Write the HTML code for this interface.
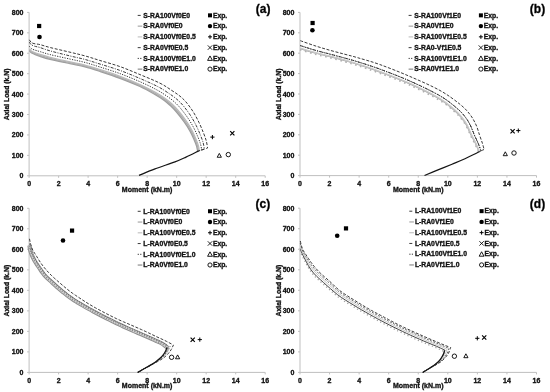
<!DOCTYPE html>
<html><head><meta charset="utf-8"><title>Interaction diagrams</title>
<style>html,body{margin:0;padding:0;background:#fff;width:550px;height:392px;overflow:hidden}svg{display:block;filter:blur(0.35px)}</style>
</head><body>
<svg width="550" height="392" viewBox="0 0 550 392" font-family="'Liberation Sans', Arial, sans-serif">
<style>text{stroke:#111;stroke-width:0.32px}</style>
<rect width="550" height="392" fill="#fff"/>
<path d="M29.1,12.4 V175.8 H265.2" fill="none" stroke="#bfbfbf" stroke-width="1"/>
<text x="23.5" y="178.3" font-size="7" text-anchor="end" font-weight="bold" fill="#111">0</text>
<text x="23.5" y="157.88" font-size="7" text-anchor="end" font-weight="bold" fill="#111">100</text>
<text x="23.5" y="137.45" font-size="7" text-anchor="end" font-weight="bold" fill="#111">200</text>
<text x="23.5" y="117.03" font-size="7" text-anchor="end" font-weight="bold" fill="#111">300</text>
<text x="23.5" y="96.6" font-size="7" text-anchor="end" font-weight="bold" fill="#111">400</text>
<text x="23.5" y="76.18" font-size="7" text-anchor="end" font-weight="bold" fill="#111">500</text>
<text x="23.5" y="55.75" font-size="7" text-anchor="end" font-weight="bold" fill="#111">600</text>
<text x="23.5" y="35.33" font-size="7" text-anchor="end" font-weight="bold" fill="#111">700</text>
<text x="23.5" y="14.9" font-size="7" text-anchor="end" font-weight="bold" fill="#111">800</text>
<text x="29.1" y="186.2" font-size="7" text-anchor="middle" font-weight="bold" fill="#111">0</text>
<text x="58.61" y="186.2" font-size="7" text-anchor="middle" font-weight="bold" fill="#111">2</text>
<text x="88.12" y="186.2" font-size="7" text-anchor="middle" font-weight="bold" fill="#111">4</text>
<text x="117.64" y="186.2" font-size="7" text-anchor="middle" font-weight="bold" fill="#111">6</text>
<text x="147.15" y="186.2" font-size="7" text-anchor="middle" font-weight="bold" fill="#111">8</text>
<text x="176.66" y="186.2" font-size="7" text-anchor="middle" font-weight="bold" fill="#111">10</text>
<text x="206.17" y="186.2" font-size="7" text-anchor="middle" font-weight="bold" fill="#111">12</text>
<text x="235.69" y="186.2" font-size="7" text-anchor="middle" font-weight="bold" fill="#111">14</text>
<text x="265.2" y="186.2" font-size="7" text-anchor="middle" font-weight="bold" fill="#111">16</text>
<path d="M27.1,175.8 h2 M27.1,155.38 h2 M27.1,134.95 h2 M27.1,114.53 h2 M27.1,94.1 h2 M27.1,73.68 h2 M27.1,53.25 h2 M27.1,32.83 h2 M27.1,12.4 h2 M29.1,175.8 v2 M58.61,175.8 v2 M88.12,175.8 v2 M117.64,175.8 v2 M147.15,175.8 v2 M176.66,175.8 v2 M206.17,175.8 v2 M235.69,175.8 v2 M265.2,175.8 v2" stroke="#bfbfbf" stroke-width="1" fill="none"/>
<text x="147.15" y="191.8" font-size="7" text-anchor="middle" font-weight="bold" fill="#111">Moment (kN.m)</text>
<text x="0" y="0" font-size="6.85" text-anchor="middle" font-weight="bold" fill="#111" transform="translate(9.1,94.4) rotate(-90)">Axial Load (k.N)</text>
<path d="M137.7,15.4 h4.6" stroke="#3a3a3a" stroke-width="1" stroke-dasharray="3 1.6" fill="none"/>
<text x="143.3" y="17.6" font-size="6.8" text-anchor="start" font-weight="bold" fill="#111">S-RA100Vf0E0</text>
<text x="212.9" y="17.6" font-size="6.8" text-anchor="start" font-weight="bold" fill="#111">Exp.</text>
<path d="M137.7,26.15 h4.6" stroke="#a8a8a8" stroke-width="1.2" fill="none"/>
<text x="143.3" y="28.35" font-size="6.8" text-anchor="start" font-weight="bold" fill="#111">S-RA0Vf0E0</text>
<text x="212.9" y="28.35" font-size="6.8" text-anchor="start" font-weight="bold" fill="#111">Exp.</text>
<path d="M137.7,36.9 h4.6" stroke="#c4c4c4" stroke-width="1.2" fill="none"/>
<text x="143.3" y="39.1" font-size="6.8" text-anchor="start" font-weight="bold" fill="#111">S-RA100Vf0E0.5</text>
<text x="212.9" y="39.1" font-size="6.8" text-anchor="start" font-weight="bold" fill="#111">Exp.</text>
<path d="M137.7,47.65 h4.6" stroke="#3a3a3a" stroke-width="1" stroke-dasharray="3 1.6" fill="none"/>
<text x="143.3" y="49.85" font-size="6.8" text-anchor="start" font-weight="bold" fill="#111">S-RA0Vf0E0.5</text>
<text x="212.9" y="49.85" font-size="6.8" text-anchor="start" font-weight="bold" fill="#111">Exp.</text>
<path d="M137.7,58.4 h4.6" stroke="#333" stroke-width="1" stroke-dasharray="1.2 1.3" fill="none"/>
<text x="143.3" y="60.6" font-size="6.8" text-anchor="start" font-weight="bold" fill="#111">S-RA100Vf0E1.0</text>
<text x="212.9" y="60.6" font-size="6.8" text-anchor="start" font-weight="bold" fill="#111">Exp.</text>
<path d="M137.7,69.15 h4.6" stroke="#8e8e8e" stroke-width="1.2" fill="none"/>
<text x="143.3" y="71.35" font-size="6.8" text-anchor="start" font-weight="bold" fill="#111">S-RA0Vf0E1.0</text>
<text x="212.9" y="71.35" font-size="6.8" text-anchor="start" font-weight="bold" fill="#111">Exp.</text>
<rect x="208" y="13.35" width="4" height="4" fill="#000"/>
<circle cx="210" cy="26.1" r="2.2" fill="#000"/>
<path d="M208,36.85 h4 M210,34.85 v4" stroke="#000" stroke-width="1" fill="none"/>
<path d="M207.8,45.4 l4.4,4.4 M207.8,49.8 l4.4,-4.4" stroke="#000" stroke-width="0.86" fill="none"/>
<path d="M210,55.95 L212.4,60.39 L207.6,60.39 Z" stroke="#000" stroke-width="0.9" fill="none"/>
<circle cx="210" cy="69.1" r="2.1" fill="none" stroke="#000" stroke-width="0.9"/>
<text x="270.4" y="13.2" font-size="12" text-anchor="end" font-weight="bold" fill="#000">(a)</text>
<path d="M300,12.4 V175.6 H536.5" fill="none" stroke="#bfbfbf" stroke-width="1"/>
<text x="294.4" y="178.1" font-size="7" text-anchor="end" font-weight="bold" fill="#111">0</text>
<text x="294.4" y="157.7" font-size="7" text-anchor="end" font-weight="bold" fill="#111">100</text>
<text x="294.4" y="137.3" font-size="7" text-anchor="end" font-weight="bold" fill="#111">200</text>
<text x="294.4" y="116.9" font-size="7" text-anchor="end" font-weight="bold" fill="#111">300</text>
<text x="294.4" y="96.5" font-size="7" text-anchor="end" font-weight="bold" fill="#111">400</text>
<text x="294.4" y="76.1" font-size="7" text-anchor="end" font-weight="bold" fill="#111">500</text>
<text x="294.4" y="55.7" font-size="7" text-anchor="end" font-weight="bold" fill="#111">600</text>
<text x="294.4" y="35.3" font-size="7" text-anchor="end" font-weight="bold" fill="#111">700</text>
<text x="294.4" y="14.9" font-size="7" text-anchor="end" font-weight="bold" fill="#111">800</text>
<text x="300" y="186" font-size="7" text-anchor="middle" font-weight="bold" fill="#111">0</text>
<text x="329.56" y="186" font-size="7" text-anchor="middle" font-weight="bold" fill="#111">2</text>
<text x="359.12" y="186" font-size="7" text-anchor="middle" font-weight="bold" fill="#111">4</text>
<text x="388.69" y="186" font-size="7" text-anchor="middle" font-weight="bold" fill="#111">6</text>
<text x="418.25" y="186" font-size="7" text-anchor="middle" font-weight="bold" fill="#111">8</text>
<text x="447.81" y="186" font-size="7" text-anchor="middle" font-weight="bold" fill="#111">10</text>
<text x="477.38" y="186" font-size="7" text-anchor="middle" font-weight="bold" fill="#111">12</text>
<text x="506.94" y="186" font-size="7" text-anchor="middle" font-weight="bold" fill="#111">14</text>
<text x="536.5" y="186" font-size="7" text-anchor="middle" font-weight="bold" fill="#111">16</text>
<path d="M298,175.6 h2 M298,155.2 h2 M298,134.8 h2 M298,114.4 h2 M298,94 h2 M298,73.6 h2 M298,53.2 h2 M298,32.8 h2 M298,12.4 h2 M300,175.6 v2 M329.56,175.6 v2 M359.12,175.6 v2 M388.69,175.6 v2 M418.25,175.6 v2 M447.81,175.6 v2 M477.38,175.6 v2 M506.94,175.6 v2 M536.5,175.6 v2" stroke="#bfbfbf" stroke-width="1" fill="none"/>
<text x="418.25" y="191.6" font-size="7" text-anchor="middle" font-weight="bold" fill="#111">Moment (kN.m)</text>
<text x="0" y="0" font-size="6.85" text-anchor="middle" font-weight="bold" fill="#111" transform="translate(281,94.3) rotate(-90)">Axial Load (k.N)</text>
<path d="M408.6,15.4 h4.6" stroke="#3a3a3a" stroke-width="1" stroke-dasharray="3 1.6" fill="none"/>
<text x="414.2" y="17.6" font-size="6.8" text-anchor="start" font-weight="bold" fill="#111">S-RA100Vf1E0</text>
<text x="483.8" y="17.6" font-size="6.8" text-anchor="start" font-weight="bold" fill="#111">Exp.</text>
<path d="M408.6,26.15 h4.6" stroke="#a8a8a8" stroke-width="1.2" fill="none"/>
<text x="414.2" y="28.35" font-size="6.8" text-anchor="start" font-weight="bold" fill="#111">S-RA0Vf1E0</text>
<text x="483.8" y="28.35" font-size="6.8" text-anchor="start" font-weight="bold" fill="#111">Exp.</text>
<path d="M408.6,36.9 h4.6" stroke="#c4c4c4" stroke-width="1.2" fill="none"/>
<text x="414.2" y="39.1" font-size="6.8" text-anchor="start" font-weight="bold" fill="#111">S-RA100Vf1E0.5</text>
<text x="483.8" y="39.1" font-size="6.8" text-anchor="start" font-weight="bold" fill="#111">Exp.</text>
<path d="M408.6,47.65 h4.6" stroke="#3a3a3a" stroke-width="1" stroke-dasharray="3 1.6" fill="none"/>
<text x="414.2" y="49.85" font-size="6.8" text-anchor="start" font-weight="bold" fill="#111">S-RA0-Vf1E0.5</text>
<text x="483.8" y="49.85" font-size="6.8" text-anchor="start" font-weight="bold" fill="#111">Exp.</text>
<path d="M408.6,58.4 h4.6" stroke="#333" stroke-width="1" stroke-dasharray="1.2 1.3" fill="none"/>
<text x="414.2" y="60.6" font-size="6.8" text-anchor="start" font-weight="bold" fill="#111">S-RA100Vf1E1.0</text>
<text x="483.8" y="60.6" font-size="6.8" text-anchor="start" font-weight="bold" fill="#111">Exp.</text>
<path d="M408.6,69.15 h4.6" stroke="#8e8e8e" stroke-width="1.2" fill="none"/>
<text x="414.2" y="71.35" font-size="6.8" text-anchor="start" font-weight="bold" fill="#111">S-RA0Vf1E1.0</text>
<text x="483.8" y="71.35" font-size="6.8" text-anchor="start" font-weight="bold" fill="#111">Exp.</text>
<rect x="478.9" y="13.35" width="4" height="4" fill="#000"/>
<circle cx="480.9" cy="26.1" r="2.2" fill="#000"/>
<path d="M478.9,36.85 h4 M480.9,34.85 v4" stroke="#000" stroke-width="1" fill="none"/>
<path d="M478.7,45.4 l4.4,4.4 M478.7,49.8 l4.4,-4.4" stroke="#000" stroke-width="0.86" fill="none"/>
<path d="M480.9,55.95 L483.3,60.39 L478.5,60.39 Z" stroke="#000" stroke-width="0.9" fill="none"/>
<circle cx="480.9" cy="69.1" r="2.1" fill="none" stroke="#000" stroke-width="0.9"/>
<text x="545.2" y="13.2" font-size="12" text-anchor="end" font-weight="bold" fill="#000">(b)</text>
<path d="M29.1,208.3 V372.4 H265.2" fill="none" stroke="#bfbfbf" stroke-width="1"/>
<text x="23.5" y="374.9" font-size="7" text-anchor="end" font-weight="bold" fill="#111">0</text>
<text x="23.5" y="354.39" font-size="7" text-anchor="end" font-weight="bold" fill="#111">100</text>
<text x="23.5" y="333.88" font-size="7" text-anchor="end" font-weight="bold" fill="#111">200</text>
<text x="23.5" y="313.36" font-size="7" text-anchor="end" font-weight="bold" fill="#111">300</text>
<text x="23.5" y="292.85" font-size="7" text-anchor="end" font-weight="bold" fill="#111">400</text>
<text x="23.5" y="272.34" font-size="7" text-anchor="end" font-weight="bold" fill="#111">500</text>
<text x="23.5" y="251.82" font-size="7" text-anchor="end" font-weight="bold" fill="#111">600</text>
<text x="23.5" y="231.31" font-size="7" text-anchor="end" font-weight="bold" fill="#111">700</text>
<text x="23.5" y="210.8" font-size="7" text-anchor="end" font-weight="bold" fill="#111">800</text>
<text x="29.1" y="382.8" font-size="7" text-anchor="middle" font-weight="bold" fill="#111">0</text>
<text x="58.61" y="382.8" font-size="7" text-anchor="middle" font-weight="bold" fill="#111">2</text>
<text x="88.12" y="382.8" font-size="7" text-anchor="middle" font-weight="bold" fill="#111">4</text>
<text x="117.64" y="382.8" font-size="7" text-anchor="middle" font-weight="bold" fill="#111">6</text>
<text x="147.15" y="382.8" font-size="7" text-anchor="middle" font-weight="bold" fill="#111">8</text>
<text x="176.66" y="382.8" font-size="7" text-anchor="middle" font-weight="bold" fill="#111">10</text>
<text x="206.17" y="382.8" font-size="7" text-anchor="middle" font-weight="bold" fill="#111">12</text>
<text x="235.69" y="382.8" font-size="7" text-anchor="middle" font-weight="bold" fill="#111">14</text>
<text x="265.2" y="382.8" font-size="7" text-anchor="middle" font-weight="bold" fill="#111">16</text>
<path d="M27.1,372.4 h2 M27.1,351.89 h2 M27.1,331.38 h2 M27.1,310.86 h2 M27.1,290.35 h2 M27.1,269.84 h2 M27.1,249.32 h2 M27.1,228.81 h2 M27.1,208.3 h2 M29.1,372.4 v2 M58.61,372.4 v2 M88.12,372.4 v2 M117.64,372.4 v2 M147.15,372.4 v2 M176.66,372.4 v2 M206.17,372.4 v2 M235.69,372.4 v2 M265.2,372.4 v2" stroke="#bfbfbf" stroke-width="1" fill="none"/>
<text x="147.15" y="388.4" font-size="7" text-anchor="middle" font-weight="bold" fill="#111">Moment (kN.m)</text>
<text x="0" y="0" font-size="6.85" text-anchor="middle" font-weight="bold" fill="#111" transform="translate(9.1,290.65) rotate(-90)">Axial Load (k.N)</text>
<path d="M137.7,211.3 h4.6" stroke="#3a3a3a" stroke-width="1" stroke-dasharray="3 1.6" fill="none"/>
<text x="143.3" y="213.5" font-size="6.8" text-anchor="start" font-weight="bold" fill="#111">L-RA100Vf0E0</text>
<text x="212.9" y="213.5" font-size="6.8" text-anchor="start" font-weight="bold" fill="#111">Exp.</text>
<path d="M137.7,222.05 h4.6" stroke="#a8a8a8" stroke-width="1.2" fill="none"/>
<text x="143.3" y="224.25" font-size="6.8" text-anchor="start" font-weight="bold" fill="#111">L-RA0Vf0E0</text>
<text x="212.9" y="224.25" font-size="6.8" text-anchor="start" font-weight="bold" fill="#111">Exp.</text>
<path d="M137.7,232.8 h4.6" stroke="#c4c4c4" stroke-width="1.2" fill="none"/>
<text x="143.3" y="235" font-size="6.8" text-anchor="start" font-weight="bold" fill="#111">L-RA100Vf0E0.5</text>
<text x="212.9" y="235" font-size="6.8" text-anchor="start" font-weight="bold" fill="#111">Exp.</text>
<path d="M137.7,243.55 h4.6" stroke="#3a3a3a" stroke-width="1" stroke-dasharray="3 1.6" fill="none"/>
<text x="143.3" y="245.75" font-size="6.8" text-anchor="start" font-weight="bold" fill="#111">L-RA0Vf0E0.5</text>
<text x="212.9" y="245.75" font-size="6.8" text-anchor="start" font-weight="bold" fill="#111">Exp.</text>
<path d="M137.7,254.3 h4.6" stroke="#333" stroke-width="1" stroke-dasharray="1.2 1.3" fill="none"/>
<text x="143.3" y="256.5" font-size="6.8" text-anchor="start" font-weight="bold" fill="#111">L-RA100Vf0E1.0</text>
<text x="212.9" y="256.5" font-size="6.8" text-anchor="start" font-weight="bold" fill="#111">Exp.</text>
<path d="M137.7,265.05 h4.6" stroke="#8e8e8e" stroke-width="1.2" fill="none"/>
<text x="143.3" y="267.25" font-size="6.8" text-anchor="start" font-weight="bold" fill="#111">L-RA0Vf0E1.0</text>
<text x="212.9" y="267.25" font-size="6.8" text-anchor="start" font-weight="bold" fill="#111">Exp.</text>
<rect x="208" y="209.25" width="4" height="4" fill="#000"/>
<circle cx="210" cy="222" r="2.2" fill="#000"/>
<path d="M208,232.75 h4 M210,230.75 v4" stroke="#000" stroke-width="1" fill="none"/>
<path d="M207.8,241.3 l4.4,4.4 M207.8,245.7 l4.4,-4.4" stroke="#000" stroke-width="0.86" fill="none"/>
<path d="M210,251.85 L212.4,256.29 L207.6,256.29 Z" stroke="#000" stroke-width="0.9" fill="none"/>
<circle cx="210" cy="265" r="2.1" fill="none" stroke="#000" stroke-width="0.9"/>
<text x="270.2" y="208.2" font-size="12" text-anchor="end" font-weight="bold" fill="#000">(c)</text>
<path d="M300,208.2 V372.4 H536.5" fill="none" stroke="#bfbfbf" stroke-width="1"/>
<text x="294.4" y="374.9" font-size="7" text-anchor="end" font-weight="bold" fill="#111">0</text>
<text x="294.4" y="354.38" font-size="7" text-anchor="end" font-weight="bold" fill="#111">100</text>
<text x="294.4" y="333.85" font-size="7" text-anchor="end" font-weight="bold" fill="#111">200</text>
<text x="294.4" y="313.32" font-size="7" text-anchor="end" font-weight="bold" fill="#111">300</text>
<text x="294.4" y="292.8" font-size="7" text-anchor="end" font-weight="bold" fill="#111">400</text>
<text x="294.4" y="272.27" font-size="7" text-anchor="end" font-weight="bold" fill="#111">500</text>
<text x="294.4" y="251.75" font-size="7" text-anchor="end" font-weight="bold" fill="#111">600</text>
<text x="294.4" y="231.22" font-size="7" text-anchor="end" font-weight="bold" fill="#111">700</text>
<text x="294.4" y="210.7" font-size="7" text-anchor="end" font-weight="bold" fill="#111">800</text>
<text x="300" y="382.8" font-size="7" text-anchor="middle" font-weight="bold" fill="#111">0</text>
<text x="329.56" y="382.8" font-size="7" text-anchor="middle" font-weight="bold" fill="#111">2</text>
<text x="359.12" y="382.8" font-size="7" text-anchor="middle" font-weight="bold" fill="#111">4</text>
<text x="388.69" y="382.8" font-size="7" text-anchor="middle" font-weight="bold" fill="#111">6</text>
<text x="418.25" y="382.8" font-size="7" text-anchor="middle" font-weight="bold" fill="#111">8</text>
<text x="447.81" y="382.8" font-size="7" text-anchor="middle" font-weight="bold" fill="#111">10</text>
<text x="477.38" y="382.8" font-size="7" text-anchor="middle" font-weight="bold" fill="#111">12</text>
<text x="506.94" y="382.8" font-size="7" text-anchor="middle" font-weight="bold" fill="#111">14</text>
<text x="536.5" y="382.8" font-size="7" text-anchor="middle" font-weight="bold" fill="#111">16</text>
<path d="M298,372.4 h2 M298,351.88 h2 M298,331.35 h2 M298,310.82 h2 M298,290.3 h2 M298,269.77 h2 M298,249.25 h2 M298,228.72 h2 M298,208.2 h2 M300,372.4 v2 M329.56,372.4 v2 M359.12,372.4 v2 M388.69,372.4 v2 M418.25,372.4 v2 M447.81,372.4 v2 M477.38,372.4 v2 M506.94,372.4 v2 M536.5,372.4 v2" stroke="#bfbfbf" stroke-width="1" fill="none"/>
<text x="418.25" y="388.4" font-size="7" text-anchor="middle" font-weight="bold" fill="#111">Moment (kN.m)</text>
<text x="0" y="0" font-size="6.85" text-anchor="middle" font-weight="bold" fill="#111" transform="translate(281,290.6) rotate(-90)">Axial Load (k.N)</text>
<path d="M409.3,211.2 h4.6" stroke="#3a3a3a" stroke-width="1" stroke-dasharray="3 1.6" fill="none"/>
<text x="414.9" y="213.4" font-size="6.8" text-anchor="start" font-weight="bold" fill="#111">L-RA100Vf1E0</text>
<text x="484.5" y="213.4" font-size="6.8" text-anchor="start" font-weight="bold" fill="#111">Exp.</text>
<path d="M409.3,221.95 h4.6" stroke="#a8a8a8" stroke-width="1.2" fill="none"/>
<text x="414.9" y="224.15" font-size="6.8" text-anchor="start" font-weight="bold" fill="#111">L-RA0Vf1E0</text>
<text x="484.5" y="224.15" font-size="6.8" text-anchor="start" font-weight="bold" fill="#111">Exp.</text>
<path d="M409.3,232.7 h4.6" stroke="#c4c4c4" stroke-width="1.2" fill="none"/>
<text x="414.9" y="234.9" font-size="6.8" text-anchor="start" font-weight="bold" fill="#111">L-RA100Vf1E0.5</text>
<text x="484.5" y="234.9" font-size="6.8" text-anchor="start" font-weight="bold" fill="#111">Exp.</text>
<path d="M409.3,243.45 h4.6" stroke="#3a3a3a" stroke-width="1" stroke-dasharray="3 1.6" fill="none"/>
<text x="414.9" y="245.65" font-size="6.8" text-anchor="start" font-weight="bold" fill="#111">L-RA0Vf1E0.5</text>
<text x="484.5" y="245.65" font-size="6.8" text-anchor="start" font-weight="bold" fill="#111">Exp.</text>
<path d="M409.3,254.2 h4.6" stroke="#333" stroke-width="1" stroke-dasharray="1.2 1.3" fill="none"/>
<text x="414.9" y="256.4" font-size="6.8" text-anchor="start" font-weight="bold" fill="#111">L-RA100Vf1E1.0</text>
<text x="484.5" y="256.4" font-size="6.8" text-anchor="start" font-weight="bold" fill="#111">Exp.</text>
<path d="M409.3,264.95 h4.6" stroke="#8e8e8e" stroke-width="1.2" fill="none"/>
<text x="414.9" y="267.15" font-size="6.8" text-anchor="start" font-weight="bold" fill="#111">L-RA0Vf1E1.0</text>
<text x="484.5" y="267.15" font-size="6.8" text-anchor="start" font-weight="bold" fill="#111">Exp.</text>
<rect x="479.6" y="209.15" width="4" height="4" fill="#000"/>
<circle cx="481.6" cy="221.9" r="2.2" fill="#000"/>
<path d="M479.6,232.65 h4 M481.6,230.65 v4" stroke="#000" stroke-width="1" fill="none"/>
<path d="M479.4,241.2 l4.4,4.4 M479.4,245.6 l4.4,-4.4" stroke="#000" stroke-width="0.86" fill="none"/>
<path d="M481.6,251.75 L484,256.19 L479.2,256.19 Z" stroke="#000" stroke-width="0.9" fill="none"/>
<circle cx="481.6" cy="264.9" r="2.1" fill="none" stroke="#000" stroke-width="0.9"/>
<text x="545.2" y="208.2" font-size="12" text-anchor="end" font-weight="bold" fill="#000">(d)</text>
<path d="M29.4,50.58 C29.67,50.89 30.23,51.87 31,52.43 C31.77,52.99 32.5,53.3 34,53.94 C35.5,54.58 37.33,55.37 40,56.26 C42.67,57.15 45,58.04 50,59.27 C55,60.5 64.17,62.39 70,63.64 C75.83,64.89 80,65.5 85,66.79 C90,68.08 94.17,69.48 100,71.39 C105.83,73.3 113.33,75.75 120,78.26 C126.67,80.78 134.25,83.82 140,86.48 C145.75,89.14 150.45,91.88 154.5,94.2 C158.55,96.52 161.7,98.53 164.3,100.39 C166.9,102.25 168.13,103.47 170.1,105.33 C172.07,107.19 173.75,108.8 176.1,111.57 C178.45,114.34 181.85,118.66 184.2,121.95 C186.55,125.24 188.54,128.36 190.2,131.3 C191.86,134.24 193.08,137.16 194.15,139.6 C195.22,142.04 196.03,144.05 196.62,145.95 C197.21,147.84 197.52,150.13 197.7,150.97 C197.78,150.96 198.01,150.93 198.16,150.92 C198.31,150.91 198.53,150.9 198.6,150.9" stroke="#9c9c9c" stroke-width="1.4" fill="none"/>
<path d="M29.4,49.7 C29.67,50.01 30.23,51.03 31,51.59 C31.77,52.16 32.5,52.48 34,53.09 C35.5,53.71 37.33,54.44 40,55.31 C42.67,56.17 45,57.07 50,58.31 C55,59.54 64.17,61.44 70,62.7 C75.83,63.97 80,64.6 85,65.9 C90,67.2 94.17,68.6 100,70.5 C105.83,72.4 113.33,74.8 120,77.31 C126.67,79.81 134.18,82.84 140,85.51 C145.82,88.17 150.79,90.95 154.95,93.3 C159.1,95.65 162.27,97.71 164.93,99.59 C167.59,101.47 168.91,102.72 170.91,104.58 C172.91,106.45 174.57,108.04 176.91,110.79 C179.25,113.54 182.58,117.8 184.92,121.09 C187.25,124.39 189.25,127.59 190.92,130.58 C192.59,133.57 193.83,136.57 194.91,139.06 C196,141.55 196.81,143.6 197.41,145.54 C198.01,147.49 198.33,149.86 198.51,150.73 C198.52,150.74 198.54,150.78 198.56,150.81 C198.57,150.84 198.59,150.89 198.6,150.9" stroke="#ababab" stroke-width="1.4" fill="none"/>
<path d="M29.4,48.82 C29.67,49.14 30.23,50.18 31,50.76 C31.77,51.33 32.5,51.65 34,52.25 C35.5,52.85 37.33,53.5 40,54.35 C42.67,55.2 45,56.11 50,57.34 C55,58.58 64.17,60.49 70,61.77 C75.83,63.05 80,63.7 85,65.01 C90,66.31 94.17,67.72 100,69.61 C105.83,71.5 113.33,73.86 120,76.35 C126.67,78.84 134.1,81.86 140,84.54 C145.9,87.21 151.14,90.02 155.4,92.4 C159.66,94.78 162.84,96.88 165.56,98.79 C168.28,100.69 169.69,101.97 171.72,103.84 C173.75,105.71 175.4,107.27 177.72,110 C180.04,112.74 183.32,116.93 185.64,120.24 C187.96,123.55 189.97,126.81 191.64,129.86 C193.31,132.91 194.59,135.97 195.68,138.52 C196.77,141.07 197.6,143.15 198.2,145.14 C198.81,147.13 199.13,149.59 199.32,150.48 C199.26,150.52 199.07,150.63 198.95,150.7 C198.83,150.77 198.66,150.87 198.6,150.9" stroke="#bababa" stroke-width="1.3" fill="none"/>
<path d="M29.4,39.8 C29.67,40.2 30.23,41.57 31,42.2 C31.77,42.83 32.5,43.2 34,43.6 C35.5,44 37.33,43.95 40,44.6 C42.67,45.25 45,46.23 50,47.5 C55,48.77 64.17,50.8 70,52.2 C75.83,53.6 80,54.52 85,55.9 C90,57.28 94.17,58.72 100,60.5 C105.83,62.28 113.33,64.25 120,66.6 C126.67,68.95 133.33,71.83 140,74.6 C146.67,77.37 154.67,80.53 160,83.2 C165.33,85.87 168.67,88.43 172,90.6 C175.33,92.77 177.67,94.3 180,96.2 C182.33,98.1 183.83,99.45 186,102 C188.17,104.55 190.83,108.08 193,111.5 C195.17,114.92 197.25,118.92 199,122.5 C200.75,126.08 202.28,129.92 203.5,133 C204.72,136.08 205.62,138.5 206.3,141 C206.98,143.5 207.38,146.83 207.6,148 C206.83,148.27 204.5,149.12 203,149.6 C201.5,150.08 199.33,150.68 198.6,150.9" stroke="#3a3a3a" stroke-width="1" stroke-dasharray="3 1.6" fill="none"/>
<path d="M29.4,42.17 C29.67,42.55 30.23,43.85 31,44.5 C31.77,45.14 32.5,45.51 34,46.02 C35.5,46.53 37.33,46.74 40,47.54 C42.67,48.35 45,49.44 50,50.84 C55,52.24 64.17,54.51 70,55.94 C75.83,57.38 80,58.11 85,59.46 C90,60.82 94.17,62.24 100,64.06 C105.83,65.89 113.33,68.01 120,70.42 C126.67,72.82 133.63,75.76 140,78.49 C146.37,81.22 153.29,84.25 158.2,86.8 C163.11,89.35 166.39,91.74 169.48,93.8 C172.57,95.87 174.55,97.3 176.76,99.19 C178.97,101.08 180.53,102.51 182.76,105.13 C184.99,107.75 187.89,111.55 190.12,114.92 C192.35,118.29 194.4,122.01 196.12,125.38 C197.84,128.75 199.27,132.29 200.44,135.16 C201.61,138.03 202.48,140.32 203.13,142.62 C203.79,144.92 204.16,147.91 204.36,148.97 C203.87,149.15 202.38,149.71 201.42,150.03 C200.46,150.35 199.07,150.76 198.6,150.9" stroke="#3a3a3a" stroke-width="1" stroke-dasharray="3 1.3 1 1.3" fill="none"/>
<path d="M29.4,46.27 C29.67,46.61 30.23,47.75 31,48.34 C31.77,48.93 32.5,49.26 34,49.8 C35.5,50.35 37.33,50.8 40,51.6 C42.67,52.39 45,53.32 50,54.56 C55,55.81 64.17,57.75 70,59.06 C75.83,60.38 80,61.11 85,62.43 C90,63.76 94.17,65.17 100,67.03 C105.83,68.89 113.33,71.15 120,73.6 C126.67,76.05 133.88,79.03 140,81.73 C146.12,84.43 152.14,87.34 156.7,89.8 C161.26,92.26 164.49,94.49 167.38,96.47 C170.27,98.45 171.95,99.8 174.06,101.68 C176.17,103.56 177.78,105.06 180.06,107.74 C182.34,110.42 185.44,114.43 187.72,117.77 C190,121.11 192.03,124.58 193.72,127.78 C195.41,130.98 196.76,134.26 197.89,136.96 C199.02,139.66 199.86,141.83 200.49,143.97 C201.12,146.11 201.47,148.81 201.66,149.78 C201.4,149.88 200.61,150.21 200.1,150.39 C199.59,150.58 198.85,150.82 198.6,150.9" stroke="#333" stroke-width="1" stroke-dasharray="1.2 1.3" fill="none"/>
<path d="M198.6,150.9 C196.5,151.93 189.93,155.27 186,157.1 C182.07,158.93 180.17,159.93 175,161.9 C169.83,163.87 161,166.65 155,168.9 C149,171.15 141.67,174.32 139,175.4" stroke="#151515" stroke-width="1.2" fill="none"/>
<rect x="37.05" y="23.9" width="4.2" height="4.2" fill="#000"/>
<circle cx="39.5" cy="37" r="2.31" fill="#000"/>
<path d="M210.3,137.1 h4.2 M212.4,135 v4.2" stroke="#000" stroke-width="1" fill="none"/>
<path d="M230.2,131.2 l4.2,4.2 M230.2,135.4 l4.2,-4.2" stroke="#000" stroke-width="1.15" fill="none"/>
<path d="M219.3,153.4 L221.4,157.28 L217.2,157.28 Z" stroke="#000" stroke-width="0.9" fill="none"/>
<circle cx="228.3" cy="154.6" r="2.21" fill="none" stroke="#000" stroke-width="0.9"/>
<path d="M300,49.8 C302.45,50.52 309.75,52.78 314.7,54.1 C319.65,55.42 324.7,56.43 329.7,57.7 C334.7,58.97 340.03,60.38 344.7,61.7 C349.37,63.02 351.87,63.68 357.7,65.6 C363.53,67.52 371.03,69.95 379.7,73.2 C388.37,76.45 399.7,80.58 409.7,85.1 C419.7,89.62 432.2,95.85 439.7,100.3 C447.2,104.75 451.03,108.63 454.7,111.8 C458.37,114.97 459.75,116.88 461.7,119.3 C463.65,121.72 464.85,123.47 466.4,126.3 C467.95,129.13 469.53,133.3 471,136.3 C472.47,139.3 473.88,141.53 475.2,144.3 C476.52,147.07 478.28,151.47 478.9,152.9" stroke="#b0b0b0" stroke-width="1.6" stroke-dasharray="1.6 3.6" fill="none"/>
<path d="M300.3,48.73 C302.75,49.45 310.05,51.7 315,53.01 C319.95,54.32 325,55.32 330,56.58 C335,57.85 340.33,59.26 345,60.58 C349.67,61.9 352.17,62.57 358,64.49 C363.83,66.42 371.33,68.86 380,72.12 C388.67,75.37 400,79.5 410,84.02 C420,88.54 432.52,94.81 440,99.25 C447.48,103.7 451.22,107.54 454.85,110.69 C458.48,113.83 459.83,115.72 461.76,118.11 C463.69,120.49 464.87,122.18 466.42,125 C467.97,127.82 469.57,132 471.05,135 C472.53,138 473.96,140.22 475.3,143 C476.63,145.78 478.43,150.22 479.05,151.66 C479.07,151.67 479.11,151.71 479.13,151.73 C479.16,151.76 479.19,151.79 479.2,151.8" stroke="#a6a6a6" stroke-width="1.2" fill="none"/>
<path d="M300.3,48.5 C302.75,49.22 310.05,51.48 315,52.8 C319.95,54.12 325,55.13 330,56.4 C335,57.67 340.33,59.08 345,60.4 C349.67,61.72 352.17,62.38 358,64.3 C363.83,66.22 371.33,68.65 380,71.9 C388.67,75.15 400,79.28 410,83.8 C420,88.32 432.5,94.55 440,99 C447.5,103.45 451.33,107.33 455,110.5 C458.67,113.67 460.05,115.58 462,118 C463.95,120.42 465.15,122.17 466.7,125 C468.25,127.83 469.83,132 471.3,135 C472.77,138 474.18,140.23 475.5,143 C476.82,145.77 478.58,150.17 479.2,151.6 C479.2,151.62 479.2,151.67 479.2,151.7 C479.2,151.73 479.2,151.78 479.2,151.8" stroke="#bdbdbd" stroke-width="1.2" fill="none"/>
<path d="M300.3,48.03 C302.75,48.76 310.05,51.05 315,52.38 C319.95,53.71 325,54.76 330,56.03 C335,57.31 340.33,58.72 345,60.03 C349.67,61.35 352.17,62.01 358,63.91 C363.83,65.81 371.33,68.22 380,71.46 C388.67,74.7 400,78.86 410,83.36 C420,87.87 432.45,94.03 440,98.49 C447.55,102.95 451.55,106.91 455.3,110.13 C459.05,113.34 460.49,115.31 462.48,117.79 C464.47,120.27 465.71,122.13 467.26,125 C468.82,127.87 470.35,132 471.79,135 C473.23,138 474.62,140.25 475.91,143 C477.19,145.75 478.9,150.06 479.49,151.47 C479.47,151.5 479.39,151.58 479.34,151.63 C479.29,151.69 479.22,151.77 479.2,151.8" stroke="#cacaca" stroke-width="1.1" fill="none"/>
<path d="M300.3,40.7 C302.75,41.55 310.05,44.2 315,45.8 C319.95,47.4 325,48.88 330,50.3 C335,51.72 340.33,53.05 345,54.3 C349.67,55.55 352.17,56.08 358,57.8 C363.83,59.52 371.33,61.48 380,64.6 C388.67,67.72 400,72.18 410,76.5 C420,80.82 431.67,85.87 440,90.5 C448.33,95.13 455,100.3 460,104.3 C465,108.3 467.32,111.05 470,114.5 C472.68,117.95 474.52,121.58 476.1,125 C477.68,128.42 478.47,132 479.5,135 C480.53,138 481.53,140.58 482.3,143 C483.07,145.42 483.8,148.42 484.1,149.5 C483.67,149.68 482.32,150.22 481.5,150.6 C480.68,150.98 479.58,151.6 479.2,151.8" stroke="#3a3a3a" stroke-width="1" stroke-dasharray="3 1.6" fill="none"/>
<path d="M300.3,45.54 C302.75,46.3 310.05,48.72 315,50.14 C319.95,51.56 325,52.76 330,54.08 C335,55.41 340.33,56.79 345,58.08 C349.67,59.37 352.17,59.99 358,61.83 C363.83,63.67 371.33,65.93 380,69.13 C388.67,72.33 400,76.59 410,81.03 C420,85.47 432.18,91.25 440,95.77 C447.82,100.29 452.73,104.66 456.9,108.14 C461.07,111.63 462.81,113.86 465.04,116.67 C467.27,119.48 468.71,121.94 470.27,125 C471.83,128.06 473.11,132 474.42,135 C475.72,138 476.98,140.37 478.08,143 C479.19,145.63 480.57,149.5 481.06,150.8 C480.9,150.88 480.38,151.12 480.07,151.28 C479.76,151.45 479.35,151.71 479.2,151.8" stroke="#3a3a3a" stroke-width="1" stroke-dasharray="3 1.3 1 1.3" fill="none"/>
<path d="M300.3,45.69 C302.75,46.46 310.05,48.86 315,50.28 C319.95,51.7 325,52.88 330,54.2 C335,55.52 340.33,56.91 345,58.2 C349.67,59.5 352.17,60.12 358,61.96 C363.83,63.8 371.33,66.07 380,69.27 C388.67,72.47 400,76.73 410,81.17 C420,85.62 432.2,91.42 440,95.94 C447.8,100.46 452.65,104.8 456.8,108.27 C460.95,111.73 462.67,113.95 464.88,116.74 C467.09,119.53 468.52,121.96 470.08,125 C471.65,128.04 472.94,132 474.25,135 C475.56,138 476.83,140.36 477.95,143 C479.07,145.64 480.46,149.54 480.96,150.84 C480.81,150.92 480.32,151.14 480.03,151.3 C479.73,151.46 479.34,151.72 479.2,151.8" stroke="#333" stroke-width="1" stroke-dasharray="1.2 1.3" fill="none"/>
<path d="M479.2,151.8 C476.83,152.95 469.53,156.63 465,158.7 C460.47,160.77 456.5,162.33 452,164.2 C447.5,166.07 442.58,168.02 438,169.9 C433.42,171.78 426.75,174.57 424.5,175.5" stroke="#151515" stroke-width="1.2" fill="none"/>
<rect x="310.5" y="20.9" width="4.2" height="4.2" fill="#000"/>
<circle cx="312.4" cy="30.3" r="2.31" fill="#000"/>
<path d="M516.2,130.6 h4.2 M518.3,128.5 v4.2" stroke="#000" stroke-width="1" fill="none"/>
<path d="M510.5,129.2 l4.2,4.2 M510.5,133.4 l4.2,-4.2" stroke="#000" stroke-width="1.15" fill="none"/>
<path d="M505.3,151.8 L507.4,155.69 L503.2,155.69 Z" stroke="#000" stroke-width="0.9" fill="none"/>
<circle cx="514" cy="153" r="2.21" fill="none" stroke="#000" stroke-width="0.9"/>
<path d="M29.5,245.5 C29.59,246.12 29.79,248 30.04,249.23 C30.3,250.45 30.65,251.66 31.05,252.85 C31.45,254.04 31.94,255.2 32.44,256.35 C32.95,257.5 33.49,258.63 34.08,259.74 C34.67,260.84 35.32,261.92 35.98,262.99 C36.64,264.06 37.34,265.09 38.05,266.13 C38.75,267.17 39.48,268.19 40.19,269.23 C40.9,270.26 41.57,271.33 42.3,272.34 C43.04,273.36 43.76,274.39 44.58,275.34 C45.4,276.29 46.32,277.15 47.22,278.02 C48.12,278.9 49.06,279.73 49.98,280.58 C50.9,281.44 51.83,282.29 52.75,283.13 C53.68,283.98 54.61,284.82 55.55,285.65 C56.49,286.49 57.44,287.31 58.39,288.12 C59.35,288.94 60.31,289.75 61.27,290.55 C62.23,291.36 63.2,292.16 64.17,292.95 C65.14,293.75 66.12,294.54 67.11,295.31 C68.1,296.08 69.09,296.85 70.11,297.58 C71.13,298.31 72.17,299.01 73.23,299.7 C74.28,300.38 75.36,301.02 76.43,301.67 C77.5,302.32 78.59,302.96 79.67,303.6 C80.74,304.24 81.82,304.89 82.9,305.53 C83.98,306.17 85.06,306.8 86.15,307.43 C87.24,308.05 88.33,308.67 89.43,309.28 C90.52,309.89 91.63,310.49 92.73,311.09 C93.84,311.68 94.95,312.27 96.06,312.85 C97.17,313.43 98.28,314.01 99.4,314.59 C100.51,315.17 101.63,315.75 102.74,316.32 C103.86,316.9 104.97,317.47 106.09,318.04 C107.21,318.61 108.33,319.17 109.46,319.73 C110.58,320.29 111.71,320.84 112.84,321.39 C113.97,321.94 115.1,322.48 116.23,323.02 C117.36,323.56 118.5,324.09 119.63,324.63 C120.77,325.16 121.9,325.7 123.04,326.23 C124.18,326.76 125.32,327.29 126.46,327.81 C127.6,328.33 128.75,328.84 129.89,329.35 C131.04,329.86 132.19,330.36 133.34,330.87 C134.49,331.37 135.65,331.86 136.8,332.36 C137.95,332.86 139.1,333.35 140.26,333.85 C141.41,334.35 142.56,334.84 143.71,335.34 C144.87,335.84 146.02,336.34 147.17,336.84 C148.32,337.35 149.47,337.85 150.62,338.35 C151.77,338.86 152.91,339.37 154.06,339.88 C155.21,340.39 156.36,340.89 157.5,341.41 C158.64,341.93 159.82,342.39 160.91,343 C162.01,343.6 163.06,344.29 164.08,345.03 C165.09,345.76 166.51,347 167,347.4" stroke="#8e8e8e" stroke-width="4.2" fill="none"/>
<path d="M29.5,245.5 C29.59,246.12 29.79,248 30.04,249.23 C30.3,250.45 30.65,251.66 31.05,252.85 C31.45,254.04 31.94,255.2 32.44,256.35 C32.95,257.5 33.49,258.63 34.08,259.74 C34.67,260.84 35.32,261.92 35.98,262.99 C36.64,264.06 37.34,265.09 38.05,266.13 C38.75,267.17 39.48,268.19 40.19,269.23 C40.9,270.26 41.57,271.33 42.3,272.34 C43.04,273.36 43.76,274.39 44.58,275.34 C45.4,276.29 46.32,277.15 47.22,278.02 C48.12,278.9 49.06,279.73 49.98,280.58 C50.9,281.44 51.83,282.29 52.75,283.13 C53.68,283.98 54.61,284.82 55.55,285.65 C56.49,286.49 57.44,287.31 58.39,288.12 C59.35,288.94 60.31,289.75 61.27,290.55 C62.23,291.36 63.2,292.16 64.17,292.95 C65.14,293.75 66.12,294.54 67.11,295.31 C68.1,296.08 69.09,296.85 70.11,297.58 C71.13,298.31 72.17,299.01 73.23,299.7 C74.28,300.38 75.36,301.02 76.43,301.67 C77.5,302.32 78.59,302.96 79.67,303.6 C80.74,304.24 81.82,304.89 82.9,305.53 C83.98,306.17 85.06,306.8 86.15,307.43 C87.24,308.05 88.33,308.67 89.43,309.28 C90.52,309.89 91.63,310.49 92.73,311.09 C93.84,311.68 94.95,312.27 96.06,312.85 C97.17,313.43 98.28,314.01 99.4,314.59 C100.51,315.17 101.63,315.75 102.74,316.32 C103.86,316.9 104.97,317.47 106.09,318.04 C107.21,318.61 108.33,319.17 109.46,319.73 C110.58,320.29 111.71,320.84 112.84,321.39 C113.97,321.94 115.1,322.48 116.23,323.02 C117.36,323.56 118.5,324.09 119.63,324.63 C120.77,325.16 121.9,325.7 123.04,326.23 C124.18,326.76 125.32,327.29 126.46,327.81 C127.6,328.33 128.75,328.84 129.89,329.35 C131.04,329.86 132.19,330.36 133.34,330.87 C134.49,331.37 135.65,331.86 136.8,332.36 C137.95,332.86 139.1,333.35 140.26,333.85 C141.41,334.35 142.56,334.84 143.71,335.34 C144.87,335.84 146.02,336.34 147.17,336.84 C148.32,337.35 149.47,337.85 150.62,338.35 C151.77,338.86 152.91,339.37 154.06,339.88 C155.21,340.39 156.36,340.89 157.5,341.41 C158.64,341.93 159.82,342.39 160.91,343 C162.01,343.6 163.06,344.29 164.08,345.03 C165.09,345.76 166.51,347 167,347.4" stroke="#d4d4d4" stroke-width="2.2" fill="none"/>
<path d="M29.5,245.5 C29.59,246.12 29.79,248 30.04,249.23 C30.3,250.45 30.65,251.66 31.05,252.85 C31.45,254.04 31.94,255.2 32.44,256.35 C32.95,257.5 33.49,258.63 34.08,259.74 C34.67,260.84 35.32,261.92 35.98,262.99 C36.64,264.06 37.34,265.09 38.05,266.13 C38.75,267.17 39.48,268.19 40.19,269.23 C40.9,270.26 41.57,271.33 42.3,272.34 C43.04,273.36 43.76,274.39 44.58,275.34 C45.4,276.29 46.32,277.15 47.22,278.02 C48.12,278.9 49.06,279.73 49.98,280.58 C50.9,281.44 51.83,282.29 52.75,283.13 C53.68,283.98 54.61,284.82 55.55,285.65 C56.49,286.49 57.44,287.31 58.39,288.12 C59.35,288.94 60.31,289.75 61.27,290.55 C62.23,291.36 63.2,292.16 64.17,292.95 C65.14,293.75 66.12,294.54 67.11,295.31 C68.1,296.08 69.09,296.85 70.11,297.58 C71.13,298.31 72.17,299.01 73.23,299.7 C74.28,300.38 75.36,301.02 76.43,301.67 C77.5,302.32 78.59,302.96 79.67,303.6 C80.74,304.24 81.82,304.89 82.9,305.53 C83.98,306.17 85.06,306.8 86.15,307.43 C87.24,308.05 88.33,308.67 89.43,309.28 C90.52,309.89 91.63,310.49 92.73,311.09 C93.84,311.68 94.95,312.27 96.06,312.85 C97.17,313.43 98.28,314.01 99.4,314.59 C100.51,315.17 101.63,315.75 102.74,316.32 C103.86,316.9 104.97,317.47 106.09,318.04 C107.21,318.61 108.33,319.17 109.46,319.73 C110.58,320.29 111.71,320.84 112.84,321.39 C113.97,321.94 115.1,322.48 116.23,323.02 C117.36,323.56 118.5,324.09 119.63,324.63 C120.77,325.16 121.9,325.7 123.04,326.23 C124.18,326.76 125.32,327.29 126.46,327.81 C127.6,328.33 128.75,328.84 129.89,329.35 C131.04,329.86 132.19,330.36 133.34,330.87 C134.49,331.37 135.65,331.86 136.8,332.36 C137.95,332.86 139.1,333.35 140.26,333.85 C141.41,334.35 142.56,334.84 143.71,335.34 C144.87,335.84 146.02,336.34 147.17,336.84 C148.32,337.35 149.47,337.85 150.62,338.35 C151.77,338.86 152.91,339.37 154.06,339.88 C155.21,340.39 156.36,340.89 157.5,341.41 C158.64,341.93 159.82,342.39 160.91,343 C162.01,343.6 163.06,344.29 164.08,345.03 C165.09,345.76 166.51,347 167,347.4" stroke="#8a8a8a" stroke-width="1.6" stroke-dasharray="1.1 1.5" fill="none"/>
<path d="M29.5,243.49 C29.6,244.12 29.84,246.01 30.11,247.25 C30.38,248.49 30.73,249.72 31.13,250.93 C31.54,252.13 32.01,253.31 32.54,254.47 C33.07,255.62 33.67,256.74 34.29,257.85 C34.91,258.96 35.58,260.04 36.25,261.12 C36.93,262.2 37.61,263.27 38.31,264.33 C39.01,265.39 39.74,266.43 40.46,267.48 C41.18,268.53 41.88,269.59 42.64,270.61 C43.4,271.63 44.16,272.65 44.99,273.61 C45.82,274.57 46.72,275.47 47.62,276.37 C48.52,277.26 49.45,278.13 50.38,279 C51.31,279.87 52.24,280.73 53.18,281.59 C54.12,282.44 55.06,283.3 56.02,284.14 C56.97,284.98 57.93,285.81 58.9,286.64 C59.86,287.47 60.83,288.29 61.81,289.1 C62.78,289.92 63.75,290.74 64.74,291.54 C65.72,292.35 66.71,293.15 67.71,293.93 C68.71,294.71 69.72,295.49 70.76,296.23 C71.79,296.97 72.84,297.68 73.9,298.38 C74.97,299.08 76.05,299.74 77.13,300.41 C78.21,301.09 79.29,301.75 80.38,302.41 C81.46,303.08 82.54,303.75 83.63,304.41 C84.71,305.07 85.8,305.72 86.9,306.36 C88,307.01 89.1,307.64 90.21,308.26 C91.31,308.89 92.43,309.5 93.55,310.11 C94.66,310.72 95.79,311.31 96.91,311.91 C98.03,312.5 99.16,313.09 100.29,313.68 C101.41,314.27 102.54,314.86 103.67,315.44 C104.8,316.02 105.93,316.6 107.06,317.18 C108.2,317.75 109.34,318.32 110.47,318.88 C111.61,319.45 112.76,320.01 113.9,320.56 C115.05,321.11 116.2,321.66 117.35,322.2 C118.5,322.74 119.65,323.27 120.81,323.8 C121.96,324.33 123.12,324.85 124.28,325.37 C125.44,325.9 126.59,326.43 127.75,326.95 C128.91,327.47 130.07,327.98 131.24,328.5 C132.4,329.01 133.57,329.52 134.73,330.03 C135.9,330.54 137.06,331.04 138.23,331.55 C139.39,332.06 140.56,332.56 141.72,333.08 C142.89,333.59 144.05,334.1 145.21,334.62 C146.37,335.14 147.53,335.67 148.69,336.19 C149.84,336.71 151,337.23 152.16,337.75 C153.32,338.27 154.49,338.79 155.65,339.31 C156.81,339.83 157.97,340.34 159.13,340.87 C160.28,341.4 161.46,341.9 162.58,342.5 C163.69,343.1 164.78,343.77 165.83,344.46 C166.89,345.16 168.41,346.31 168.92,346.68 C168.65,347.33 167.99,349.28 167.28,350.58 C166.57,351.88 165.67,353.23 164.64,354.5 C163.61,355.77 162.5,356.96 161.08,358.18 C159.66,359.4 157.92,360.61 156.1,361.81 C154.28,363.01 152.2,364.2 150.18,365.37 C148.16,366.54 146.08,367.63 144,368.8 C141.92,369.97 138.75,371.8 137.7,372.4" stroke="#555" stroke-width="0.8" stroke-dasharray="1.5 1.2" fill="none"/>
<path d="M29.5,238.8 C29.63,239.44 29.96,241.38 30.27,242.65 C30.57,243.92 30.91,245.2 31.32,246.43 C31.74,247.67 32.2,248.91 32.77,250.08 C33.34,251.25 34.07,252.35 34.76,253.46 C35.45,254.57 36.21,255.64 36.9,256.75 C37.6,257.86 38.24,259.01 38.93,260.11 C39.63,261.22 40.33,262.33 41.08,263.4 C41.83,264.48 42.61,265.52 43.42,266.55 C44.23,267.58 45.08,268.58 45.94,269.57 C46.8,270.56 47.66,271.54 48.56,272.49 C49.45,273.45 50.37,274.38 51.31,275.3 C52.24,276.21 53.21,277.1 54.17,277.98 C55.14,278.87 56.12,279.73 57.11,280.6 C58.09,281.46 59.08,282.32 60.07,283.17 C61.06,284.03 62.05,284.88 63.05,285.73 C64.05,286.58 65.05,287.42 66.06,288.25 C67.07,289.08 68.09,289.91 69.12,290.72 C70.15,291.52 71.2,292.31 72.26,293.08 C73.32,293.84 74.4,294.58 75.49,295.31 C76.57,296.05 77.67,296.76 78.76,297.48 C79.85,298.2 80.94,298.93 82.04,299.65 C83.13,300.37 84.23,301.09 85.33,301.79 C86.43,302.5 87.54,303.2 88.65,303.88 C89.77,304.57 90.89,305.24 92.03,305.89 C93.16,306.55 94.3,307.19 95.45,307.82 C96.59,308.46 97.74,309.08 98.9,309.7 C100.05,310.33 101.2,310.95 102.36,311.56 C103.51,312.17 104.67,312.78 105.84,313.38 C107,313.98 108.16,314.58 109.33,315.17 C110.5,315.75 111.68,316.34 112.85,316.91 C114.03,317.49 115.21,318.06 116.39,318.62 C117.57,319.18 118.76,319.74 119.95,320.28 C121.14,320.82 122.34,321.34 123.55,321.85 C124.75,322.37 125.96,322.87 127.16,323.38 C128.37,323.9 129.57,324.42 130.77,324.94 C131.97,325.46 133.17,325.98 134.37,326.5 C135.57,327.03 136.77,327.55 137.97,328.08 C139.17,328.6 140.37,329.13 141.57,329.66 C142.76,330.19 143.96,330.72 145.15,331.27 C146.34,331.82 147.52,332.37 148.7,332.94 C149.88,333.51 151.05,334.1 152.23,334.67 C153.41,335.24 154.59,335.81 155.77,336.36 C156.96,336.91 158.16,337.44 159.35,337.99 C160.54,338.53 161.74,339.06 162.92,339.61 C164.11,340.17 165.29,340.74 166.46,341.33 C167.63,341.92 168.78,342.54 169.94,343.15 C171.09,343.76 172.82,344.69 173.4,345 C173.03,345.77 172.1,348.13 171.2,349.6 C170.3,351.07 169.27,352.42 168,353.8 C166.73,355.18 165.35,356.6 163.6,357.9 C161.85,359.2 159.67,360.37 157.5,361.6 C155.33,362.83 152.85,364.1 150.6,365.3 C148.35,366.5 146.15,367.62 144,368.8 C141.85,369.98 138.75,371.8 137.7,372.4" stroke="#3a3a3a" stroke-width="1" stroke-dasharray="3 1.6" fill="none"/>
<path d="M168.28,346.92 C168.02,347.55 167.41,349.44 166.72,350.72 C166.03,352 165.16,353.35 164.16,354.6 C163.16,355.85 162.1,357.01 160.72,358.22 C159.34,359.43 157.67,360.65 155.9,361.84 C154.13,363.03 152.1,364.22 150.12,365.38 C148.14,366.54 146.07,367.63 144,368.8 C141.93,369.97 138.75,371.8 137.7,372.4" stroke="#444" stroke-width="0.9" stroke-dasharray="2 1" fill="none"/>
<path d="M170.2,346.2 C169.9,346.88 169.17,348.95 168.4,350.3 C167.63,351.65 166.7,353 165.6,354.3 C164.5,355.6 163.32,356.86 161.8,358.1 C160.28,359.34 158.42,360.54 156.5,361.75 C154.58,362.96 152.38,364.18 150.3,365.35 C148.22,366.53 146.1,367.62 144,368.8 C141.9,369.98 138.75,371.8 137.7,372.4" stroke="#666" stroke-width="0.9" stroke-dasharray="1.2 1.2" fill="none"/>
<path d="M167,347.4 C166.77,348 166.23,349.77 165.6,351 C164.97,352.23 164.13,353.58 163.2,354.8 C162.27,356.02 161.28,357.12 160,358.3 C158.72,359.48 157.17,360.72 155.5,361.9 C153.83,363.08 151.92,364.25 150,365.4 C148.08,366.55 146.05,367.63 144,368.8 C141.95,369.97 138.75,371.8 137.7,372.4" stroke="#151515" stroke-width="1.25" fill="none"/>
<rect x="69.95" y="228.5" width="4.2" height="4.2" fill="#000"/>
<circle cx="63" cy="240.5" r="2.31" fill="#000"/>
<path d="M197.7,339.6 h4.2 M199.8,337.5 v4.2" stroke="#000" stroke-width="1" fill="none"/>
<path d="M190.6,337.7 l4.2,4.2 M190.6,341.9 l4.2,-4.2" stroke="#000" stroke-width="1.15" fill="none"/>
<path d="M177.6,354.9 L179.7,358.79 L175.5,358.79 Z" stroke="#000" stroke-width="0.9" fill="none"/>
<circle cx="171.6" cy="357.3" r="2.21" fill="none" stroke="#000" stroke-width="0.9"/>
<path d="M300.05,250.3 C300.31,251.03 301.02,253.24 301.63,254.66 C302.24,256.08 303.01,257.43 303.71,258.8 C304.41,260.18 305.12,261.56 305.83,262.93 C306.54,264.31 307.2,265.71 307.96,267.05 C308.73,268.39 309.53,269.72 310.42,270.98 C311.3,272.25 312.25,273.48 313.26,274.65 C314.27,275.82 315.36,276.92 316.46,278 C317.57,279.08 318.74,280.09 319.89,281.13 C321.03,282.17 322.19,283.2 323.34,284.23 C324.49,285.27 325.63,286.31 326.79,287.33 C327.95,288.35 329.13,289.35 330.3,290.37 C331.46,291.38 332.61,292.42 333.8,293.41 C334.98,294.41 336.16,295.41 337.38,296.35 C338.61,297.29 339.87,298.19 341.15,299.06 C342.42,299.93 343.73,300.76 345.04,301.59 C346.35,302.41 347.67,303.22 348.99,304.02 C350.31,304.83 351.63,305.62 352.96,306.42 C354.28,307.22 355.61,308.02 356.93,308.81 C358.26,309.6 359.59,310.39 360.93,311.17 C362.27,311.95 363.6,312.72 364.95,313.49 C366.29,314.26 367.64,315.02 368.99,315.77 C370.33,316.53 371.69,317.28 373.04,318.02 C374.4,318.76 375.76,319.5 377.12,320.23 C378.48,320.96 379.85,321.69 381.22,322.41 C382.58,323.14 383.95,323.86 385.32,324.57 C386.69,325.29 388.06,326 389.44,326.7 C390.82,327.4 392.21,328.08 393.6,328.76 C394.99,329.45 396.38,330.12 397.77,330.8 C399.16,331.47 400.55,332.15 401.94,332.82 C403.33,333.49 404.73,334.16 406.13,334.82 C407.53,335.48 408.93,336.13 410.34,336.77 C411.75,337.41 413.16,338.04 414.57,338.67 C415.98,339.3 417.4,339.92 418.82,340.54 C420.23,341.16 421.65,341.77 423.07,342.38 C424.49,342.99 425.92,343.6 427.35,344.18 C428.78,344.77 430.22,345.33 431.65,345.91 C433.08,346.5 434.52,347.07 435.94,347.68 C437.36,348.3 438.76,348.96 440.16,349.61 C441.56,350.26 443.65,351.27 444.35,351.6" stroke="#a0a0a0" stroke-width="1.3" stroke-dasharray="1.2 2.6" fill="none"/>
<path d="M300.3,248.6 C300.56,249.33 301.25,251.55 301.86,252.98 C302.46,254.4 303.22,255.76 303.92,257.14 C304.62,258.52 305.34,259.9 306.06,261.27 C306.78,262.64 307.45,264.04 308.22,265.38 C309,266.72 309.81,268.05 310.69,269.32 C311.58,270.59 312.53,271.82 313.54,273 C314.55,274.17 315.64,275.28 316.74,276.36 C317.85,277.45 319.02,278.47 320.16,279.51 C321.31,280.55 322.47,281.59 323.62,282.62 C324.78,283.66 325.93,284.7 327.09,285.72 C328.25,286.75 329.43,287.75 330.6,288.77 C331.77,289.79 332.92,290.83 334.1,291.83 C335.28,292.84 336.46,293.84 337.69,294.79 C338.91,295.73 340.18,296.63 341.46,297.51 C342.74,298.38 344.05,299.21 345.36,300.04 C346.67,300.87 347.99,301.68 349.31,302.48 C350.63,303.29 351.96,304.09 353.29,304.89 C354.62,305.69 355.94,306.49 357.28,307.29 C358.61,308.08 359.94,308.87 361.28,309.66 C362.62,310.44 363.96,311.21 365.3,311.98 C366.65,312.75 368,313.52 369.35,314.27 C370.7,315.03 372.06,315.78 373.42,316.52 C374.78,317.27 376.14,318 377.51,318.74 C378.88,319.47 380.24,320.2 381.61,320.92 C382.98,321.65 384.35,322.38 385.73,323.09 C387.1,323.81 388.48,324.53 389.86,325.23 C391.24,325.93 392.63,326.61 394.02,327.3 C395.41,327.98 396.81,328.66 398.2,329.34 C399.59,330.01 400.99,330.69 402.39,331.36 C403.78,332.04 405.18,332.71 406.58,333.36 C407.99,334.02 409.39,334.67 410.8,335.32 C412.21,335.96 413.63,336.59 415.05,337.22 C416.46,337.85 417.88,338.47 419.3,339.09 C420.72,339.71 422.14,340.33 423.57,340.94 C424.99,341.55 426.42,342.16 427.85,342.75 C429.29,343.34 430.73,343.9 432.17,344.49 C433.6,345.07 435.04,345.65 436.46,346.26 C437.89,346.88 439.29,347.53 440.7,348.18 C442.11,348.83 444.2,349.83 444.91,350.17 C444.75,350.7 444.4,352.27 443.94,353.38 C443.49,354.49 442.9,355.63 442.18,356.82 C441.46,358.01 440.72,359.31 439.6,360.54 C438.48,361.77 437,363.02 435.45,364.22 C433.9,365.41 432.43,366.35 430.3,367.71 C428.18,369.07 423.97,371.62 422.7,372.4" stroke="#444" stroke-width="1" fill="none"/>
<path d="M300.3,245.8 C300.53,246.55 301.14,248.84 301.69,250.31 C302.25,251.77 302.92,253.21 303.63,254.61 C304.34,256.01 305.16,257.36 305.94,258.73 C306.71,260.1 307.47,261.48 308.29,262.82 C309.12,264.16 309.96,265.5 310.86,266.78 C311.77,268.07 312.73,269.33 313.74,270.53 C314.75,271.74 315.84,272.88 316.95,274 C318.05,275.13 319.21,276.2 320.36,277.27 C321.51,278.34 322.69,279.39 323.87,280.44 C325.05,281.49 326.24,282.52 327.42,283.56 C328.61,284.6 329.8,285.63 330.97,286.68 C332.14,287.73 333.27,288.83 334.46,289.87 C335.64,290.91 336.82,291.96 338.05,292.93 C339.29,293.91 340.58,294.83 341.87,295.72 C343.17,296.62 344.5,297.46 345.83,298.31 C347.15,299.16 348.5,299.98 349.84,300.81 C351.18,301.64 352.53,302.46 353.87,303.28 C355.22,304.1 356.56,304.92 357.91,305.74 C359.26,306.55 360.61,307.36 361.97,308.16 C363.32,308.96 364.69,309.76 366.05,310.54 C367.42,311.33 368.79,312.1 370.16,312.87 C371.54,313.64 372.92,314.4 374.31,315.15 C375.69,315.9 377.08,316.65 378.47,317.39 C379.86,318.13 381.25,318.87 382.65,319.61 C384.04,320.35 385.43,321.08 386.82,321.82 C388.22,322.55 389.61,323.29 391.01,324.01 C392.41,324.73 393.82,325.44 395.23,326.14 C396.65,326.84 398.06,327.53 399.48,328.21 C400.9,328.9 402.32,329.59 403.74,330.26 C405.17,330.94 406.59,331.61 408.02,332.28 C409.45,332.94 410.88,333.6 412.31,334.25 C413.75,334.9 415.19,335.55 416.63,336.19 C418.07,336.82 419.51,337.46 420.96,338.09 C422.4,338.72 423.84,339.35 425.29,339.97 C426.74,340.59 428.19,341.21 429.64,341.82 C431.1,342.43 432.56,343.02 434.02,343.62 C435.47,344.22 436.93,344.81 438.38,345.43 C439.83,346.04 441.28,346.68 442.72,347.31 C444.16,347.94 446.32,348.9 447.04,349.22 C446.81,349.89 446.26,351.95 445.66,353.24 C445.06,354.53 444.33,355.7 443.44,356.96 C442.55,358.22 441.57,359.59 440.3,360.82 C439.03,362.05 437.47,363.2 435.8,364.36 C434.13,365.52 432.48,366.44 430.3,367.78 C428.12,369.12 423.97,371.63 422.7,372.4" stroke="#c8c8c8" stroke-width="1" fill="none"/>
<path d="M300.3,243.24 C300.51,244.01 301.04,246.36 301.55,247.87 C302.06,249.37 302.65,250.87 303.37,252.3 C304.08,253.72 304.99,255.04 305.82,256.41 C306.65,257.77 307.49,259.13 308.36,260.47 C309.22,261.82 310.1,263.16 311.02,264.46 C311.95,265.76 312.91,267.05 313.92,268.28 C314.94,269.51 316.03,270.69 317.13,271.85 C318.24,273 319.38,274.12 320.54,275.22 C321.7,276.32 322.9,277.38 324.1,278.44 C325.3,279.5 326.53,280.52 327.73,281.58 C328.93,282.63 330.13,283.69 331.31,284.77 C332.48,285.86 333.6,287 334.78,288.08 C335.96,289.16 337.15,290.24 338.39,291.24 C339.64,292.24 340.94,293.17 342.25,294.09 C343.56,295.01 344.91,295.87 346.25,296.73 C347.6,297.6 348.96,298.44 350.32,299.28 C351.68,300.13 353.04,300.97 354.4,301.8 C355.76,302.64 357.12,303.49 358.49,304.32 C359.85,305.15 361.22,305.98 362.6,306.8 C363.97,307.61 365.35,308.42 366.74,309.22 C368.12,310.02 369.51,310.81 370.91,311.59 C372.31,312.37 373.71,313.14 375.12,313.9 C376.52,314.66 377.94,315.41 379.35,316.16 C380.76,316.91 382.18,317.65 383.59,318.4 C385,319.15 386.42,319.9 387.83,320.65 C389.24,321.41 390.65,322.17 392.07,322.91 C393.48,323.64 394.91,324.37 396.34,325.08 C397.77,325.8 399.21,326.49 400.65,327.19 C402.09,327.88 403.54,328.57 404.98,329.26 C406.43,329.94 407.88,330.62 409.33,331.29 C410.78,331.96 412.24,332.62 413.69,333.28 C415.15,333.94 416.61,334.59 418.08,335.24 C419.54,335.89 421,336.53 422.47,337.17 C423.93,337.81 425.4,338.45 426.87,339.09 C428.34,339.72 429.81,340.35 431.28,340.97 C432.75,341.59 434.23,342.2 435.71,342.82 C437.18,343.43 438.66,344.05 440.14,344.66 C441.61,345.28 443.09,345.89 444.57,346.51 C446.04,347.12 448.25,348.05 448.99,348.36 C448.7,349.15 447.96,351.66 447.23,353.11 C446.49,354.57 445.64,355.76 444.59,357.09 C443.54,358.42 442.35,359.84 440.94,361.08 C439.53,362.31 437.89,363.36 436.12,364.49 C434.35,365.62 432.54,366.53 430.3,367.84 C428.06,369.16 423.97,371.64 422.7,372.4" stroke="#555" stroke-width="0.9" stroke-dasharray="2 1.4" fill="none"/>
<path d="M300.3,241 C300.49,241.79 300.94,244.18 301.42,245.73 C301.89,247.27 302.42,248.83 303.14,250.27 C303.85,251.71 304.84,253.02 305.72,254.38 C306.6,255.73 307.51,257.08 308.41,258.42 C309.32,259.77 310.22,261.12 311.16,262.43 C312.11,263.74 313.06,265.06 314.09,266.31 C315.11,267.57 316.2,268.77 317.3,269.96 C318.4,271.15 319.53,272.31 320.7,273.43 C321.86,274.55 323.08,275.63 324.3,276.7 C325.51,277.77 326.78,278.78 328,279.85 C329.22,280.91 330.43,281.99 331.61,283.1 C332.78,284.21 333.89,285.4 335.07,286.51 C336.25,287.62 337.43,288.73 338.69,289.76 C339.94,290.78 341.26,291.73 342.58,292.66 C343.9,293.6 345.27,294.47 346.63,295.35 C347.99,296.23 349.37,297.09 350.74,297.95 C352.11,298.81 353.49,299.66 354.86,300.52 C356.24,301.37 357.61,302.23 358.99,303.08 C360.37,303.93 361.76,304.77 363.15,305.6 C364.54,306.43 365.93,307.26 367.33,308.07 C368.74,308.88 370.14,309.69 371.56,310.47 C372.97,311.26 374.4,312.03 375.83,312.8 C377.25,313.57 378.69,314.32 380.12,315.08 C381.55,315.84 382.99,316.59 384.42,317.35 C385.85,318.11 387.28,318.87 388.71,319.64 C390.13,320.4 391.55,321.18 392.99,321.93 C394.42,322.69 395.86,323.43 397.31,324.16 C398.76,324.88 400.22,325.59 401.68,326.29 C403.14,326.99 404.6,327.69 406.07,328.37 C407.54,329.06 409.01,329.74 410.48,330.42 C411.95,331.1 413.43,331.76 414.9,332.43 C416.38,333.1 417.86,333.75 419.34,334.41 C420.82,335.07 422.3,335.72 423.79,336.37 C425.27,337.02 426.76,337.67 428.25,338.31 C429.73,338.95 431.22,339.59 432.71,340.23 C434.2,340.86 435.69,341.49 437.19,342.12 C438.68,342.75 440.18,343.38 441.67,343.99 C443.17,344.6 444.68,345.21 446.18,345.81 C447.69,346.41 449.95,347.3 450.7,347.6 C450.35,348.5 449.45,351.4 448.6,353 C447.75,354.6 446.78,355.82 445.6,357.2 C444.42,358.58 443.03,360.07 441.5,361.3 C439.97,362.53 438.27,363.5 436.4,364.6 C434.53,365.7 432.58,366.6 430.3,367.9 C428.02,369.2 423.97,371.65 422.7,372.4" stroke="#3a3a3a" stroke-width="1" stroke-dasharray="3 1.6" fill="none"/>
<path d="M444.6,350.3 C444.45,350.82 444.13,352.32 443.7,353.4 C443.27,354.48 442.7,355.62 442,356.8 C441.3,357.98 440.6,359.27 439.5,360.5 C438.4,361.73 436.93,363 435.4,364.2 C433.87,365.4 432.42,366.33 430.3,367.7 C428.18,369.07 423.97,371.62 422.7,372.4" stroke="#151515" stroke-width="1.25" fill="none"/>
<rect x="343.9" y="226.3" width="4.2" height="4.2" fill="#000"/>
<circle cx="337.2" cy="235.7" r="2.31" fill="#000"/>
<path d="M475.2,338.3 h4.2 M477.3,336.2 v4.2" stroke="#000" stroke-width="1" fill="none"/>
<path d="M482.1,335.4 l4.2,4.2 M482.1,339.6 l4.2,-4.2" stroke="#000" stroke-width="1.15" fill="none"/>
<path d="M465.9,353.8 L468,357.69 L463.8,357.69 Z" stroke="#000" stroke-width="0.9" fill="none"/>
<circle cx="454.4" cy="356.2" r="2.21" fill="none" stroke="#000" stroke-width="0.9"/>
</svg>
</body></html>
